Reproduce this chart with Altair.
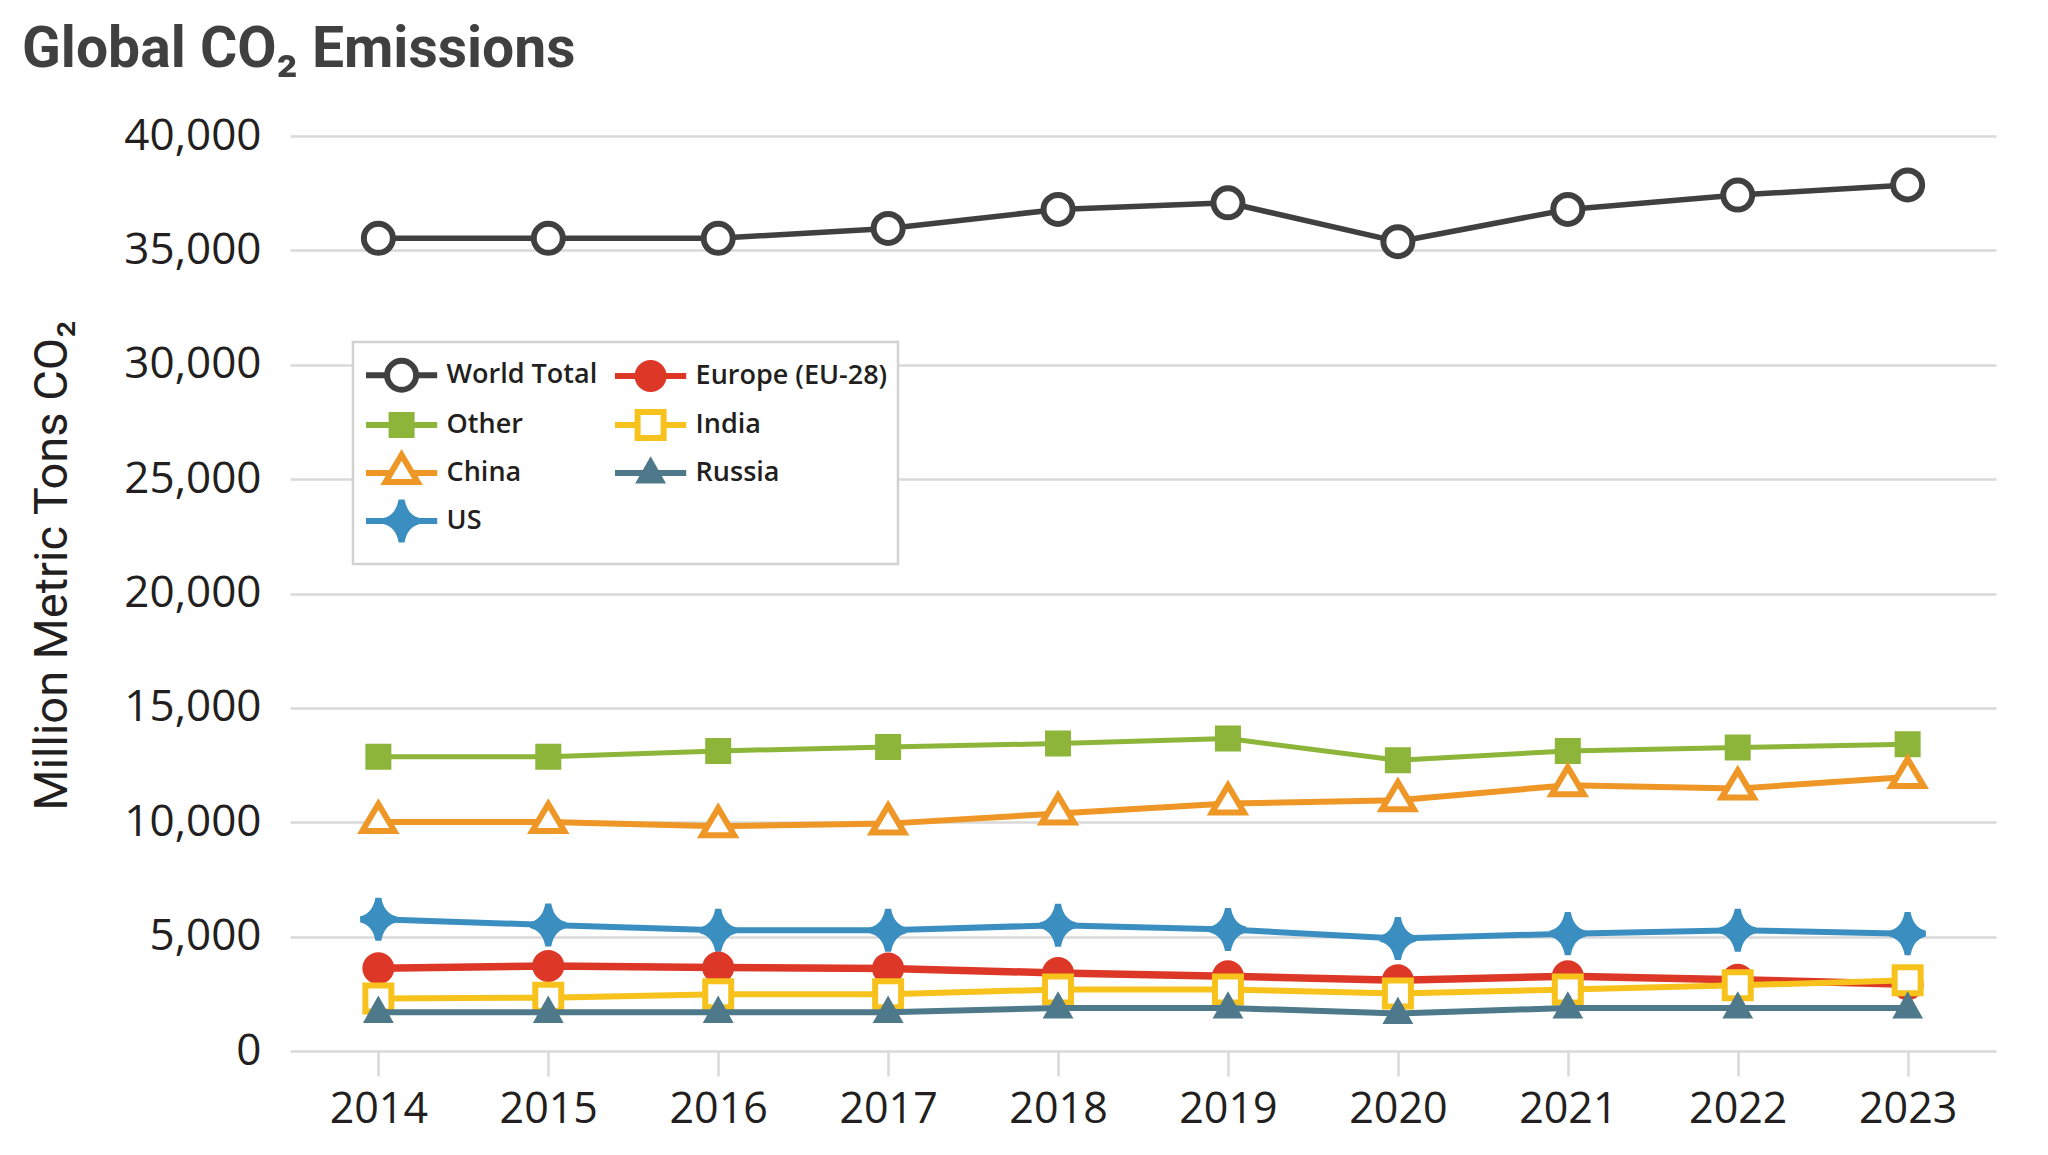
import altair as alt
import pandas as pd

# ---------------- data ----------------
years = [2014, 2015, 2016, 2017, 2018, 2019, 2020, 2021, 2022, 2023]

world_total = [35530, 35530, 35530, 35960, 36790, 37080, 35380, 36790, 37420, 37860]
other = [12860, 12860, 13120, 13290, 13440, 13660, 12710, 13120, 13270, 13410]
china = [10010, 10010, 9830, 9940, 10380, 10820, 10960, 11620, 11470, 11980]
us = [5760, 5510, 5280, 5280, 5500, 5310, 4920, 5130, 5280, 5130]
europe = [3620, 3720, 3650, 3610, 3410, 3270, 3090, 3270, 3120, 2920]
india = [2300, 2330, 2480, 2480, 2690, 2690, 2510, 2690, 2870, 3090]
russia = [1690, 1690, 1690, 1690, 1880, 1880, 1640, 1880, 1880, 1880]

series_names = ["World Total", "Other", "China", "US", "Europe (EU-28)", "India", "Russia"]
series_values = [world_total, other, china, us, europe, india, russia]
# legend fills column by column: World/Other/China/US, then Europe/India/Russia
legend_order = ["World Total", "Other", "China", "US", "Europe (EU-28)", "India", "Russia"]
y_ticks = [0, 5000, 10000, 15000, 20000, 25000, 30000, 35000, 40000]

rows = []
for name, vals in zip(series_names, series_values):
    for yr, v in zip(years, vals):
        rows.append({"year": yr, "series": name, "value": v})
df = pd.DataFrame(rows)


# ---------------- marker shapes (unit coords) ----------------
def f(v):
    return f"{v:.4f}"


def circle(r):
    k = 0.5523 * r
    return (f"M{f(r)},0C{f(r)},{f(k)} {f(k)},{f(r)} 0,{f(r)}"
            f"C{f(-k)},{f(r)} {f(-r)},{f(k)} {f(-r)},0"
            f"C{f(-r)},{f(-k)} {f(-k)},{f(-r)} 0,{f(-r)}"
            f"C{f(k)},{f(-r)} {f(r)},{f(-k)} {f(r)},0Z")


def square(h):
    return f"M{f(-h)},{f(-h)}L{f(h)},{f(-h)}L{f(h)},{f(h)}L{f(-h)},{f(h)}Z"


def triangle(apex, base, hw):
    return f"M0,{f(apex)}L{f(hw)},{f(base)}L{f(-hw)},{f(base)}Z"


def star(v, h, c):
    return (f"M0,{f(-v)}Q{f(c)},{f(-c)} {f(h)},0Q{f(c)},{f(c)} 0,{f(v)}"
            f"Q{f(-c)},{f(c)} {f(-h)},0Q{f(-c)},{f(-c)} 0,{f(-v)}Z")


STUB = 1.78


def legend_path(marker, edge):
    if edge > 0:
        stub = f"M{f(-STUB)},0L{f(-edge)},0M{f(edge)},0L{f(STUB)},0"
    else:
        stub = f"M{f(-STUB)},0L{f(STUB)},0"
    return stub + "M0,0.62" + marker


STYLE = {
    "World Total": dict(color="#404041", fill="white", width=5.5, marker=circle(0.725), edge=0.725),
    "Other": dict(color="#8db53a", fill="#8db53a", width=5.0, marker=square(0.5), edge=0),
    "China": dict(color="#ee9726", fill="white", width=6.0, marker=triangle(-0.9, 0.45, 0.8), edge=0.533),
    "US": dict(color="#3b8fc0", fill="#3b8fc0", width=6.0, marker=star(1.05, 0.88, 0.16), edge=0),
    "Europe (EU-28)": dict(color="#dd3827", fill="#dd3827", width=7.5, marker=circle(0.65), edge=0),
    "India": dict(color="#f8c21c", fill="white", width=6.0, marker=square(0.65), edge=0.65),
    "Russia": dict(color="#4e798b", fill="#4e798b", width=6.0, marker=triangle(-0.535, 0.38, 0.515), edge=0),
}

MARK_SIZE = 1600
MARK_SW = 6
TEXT = "#231f20"
GRID = "#d9d9d9"

# ---------------- encodings ----------------
x_enc = alt.X(
    "year:O",
    scale=alt.Scale(type="point", padding=0.52),
    axis=alt.Axis(
        title=None, labelAngle=0, labelFont="Open Sans", labelFontSize=43,
        labelColor=TEXT, labelPadding=12, ticks=True, tickSize=25,
        tickColor=GRID, tickWidth=2.5, domain=False, grid=False,
    ),
)
y_enc = alt.Y(
    "value:Q",
    scale=alt.Scale(domain=[0, 40000], nice=False, zero=True),
    axis=alt.Axis(
        values=y_ticks, format=",d", labelFont="Open Sans", labelFontSize=44,
        labelColor=TEXT, labelPadding=29, ticks=False, domain=False,
        grid=True, gridColor=GRID, gridWidth=2.5,
        title="Million Metric Tons CO₂", titleFont="Roboto", titleFontSize=47,
        titleFontWeight="normal", titleColor=TEXT, titleAngle=270,
        titleX=-238, titleY=429, titleAlign="center", titleBaseline="middle",
    ),
)

base = alt.Chart(df).encode(x=x_enc, y=y_enc)

layers = []
for name in series_names:
    st = STYLE[name]
    sub = base.transform_filter(alt.datum.series == name)
    layers.append(
        sub.mark_line(color=st["color"], strokeWidth=st["width"], strokeJoin="round")
    )
    layers.append(
        sub.mark_point(
            shape=st["marker"], size=MARK_SIZE, filled=True, fill=st["fill"],
            stroke=st["color"], strokeWidth=MARK_SW, opacity=1,
        )
    )

legend = alt.Legend(
    title=None, orient="none", legendX=63, legendY=206, columns=2,
    symbolSize=MARK_SIZE, symbolStrokeWidth=MARK_SW, symbolOffset=15.6,
    symbolOpacity=1, labelOffset=22, labelFont="Open Sans",
    labelFontSize=27, labelFontWeight=600, labelColor=TEXT, labelLimit=500,
    rowPadding=-30, columnPadding=5, padding=10, fillColor="white",
    strokeColor="#d2d2d2",
)

legend_layer = (
    alt.Chart(df)
    .transform_filter("false")
    .mark_point(size=MARK_SIZE, strokeWidth=MARK_SW, opacity=1, filled=True)
    .encode(
        shape=alt.Shape(
            "series:N", legend=legend,
            scale=alt.Scale(domain=legend_order,
                            range=[legend_path(STYLE[s]["marker"], STYLE[s]["edge"]) for s in legend_order]),
        ),
        fill=alt.Fill(
            "series:N", legend=legend,
            scale=alt.Scale(domain=legend_order, range=[STYLE[s]["fill"] for s in legend_order]),
        ),
        stroke=alt.Stroke(
            "series:N", legend=legend,
            scale=alt.Scale(domain=legend_order, range=[STYLE[s]["color"] for s in legend_order]),
        ),
    )
)

chart = (
    alt.layer(*layers, legend_layer)
    .properties(
        width=1706, height=915,
        autosize="none",
        padding={"left": 290, "top": 136, "right": 52, "bottom": 104},
        title=alt.TitleParams(
            text="Global CO₂ Emissions", anchor="start", frame="group",
            font="Roboto", fontSize=57, fontWeight="bold", color="#404041",
            offset=0, dx=-268, dy=10, baseline="alphabetic",
        ),
        background="white",
    )
    .configure_view(stroke=None)
    .configure_legend(strokeWidth=2.5)
)

chart.save("out.html", embed_options={"renderer": "svg", "actions": False})
